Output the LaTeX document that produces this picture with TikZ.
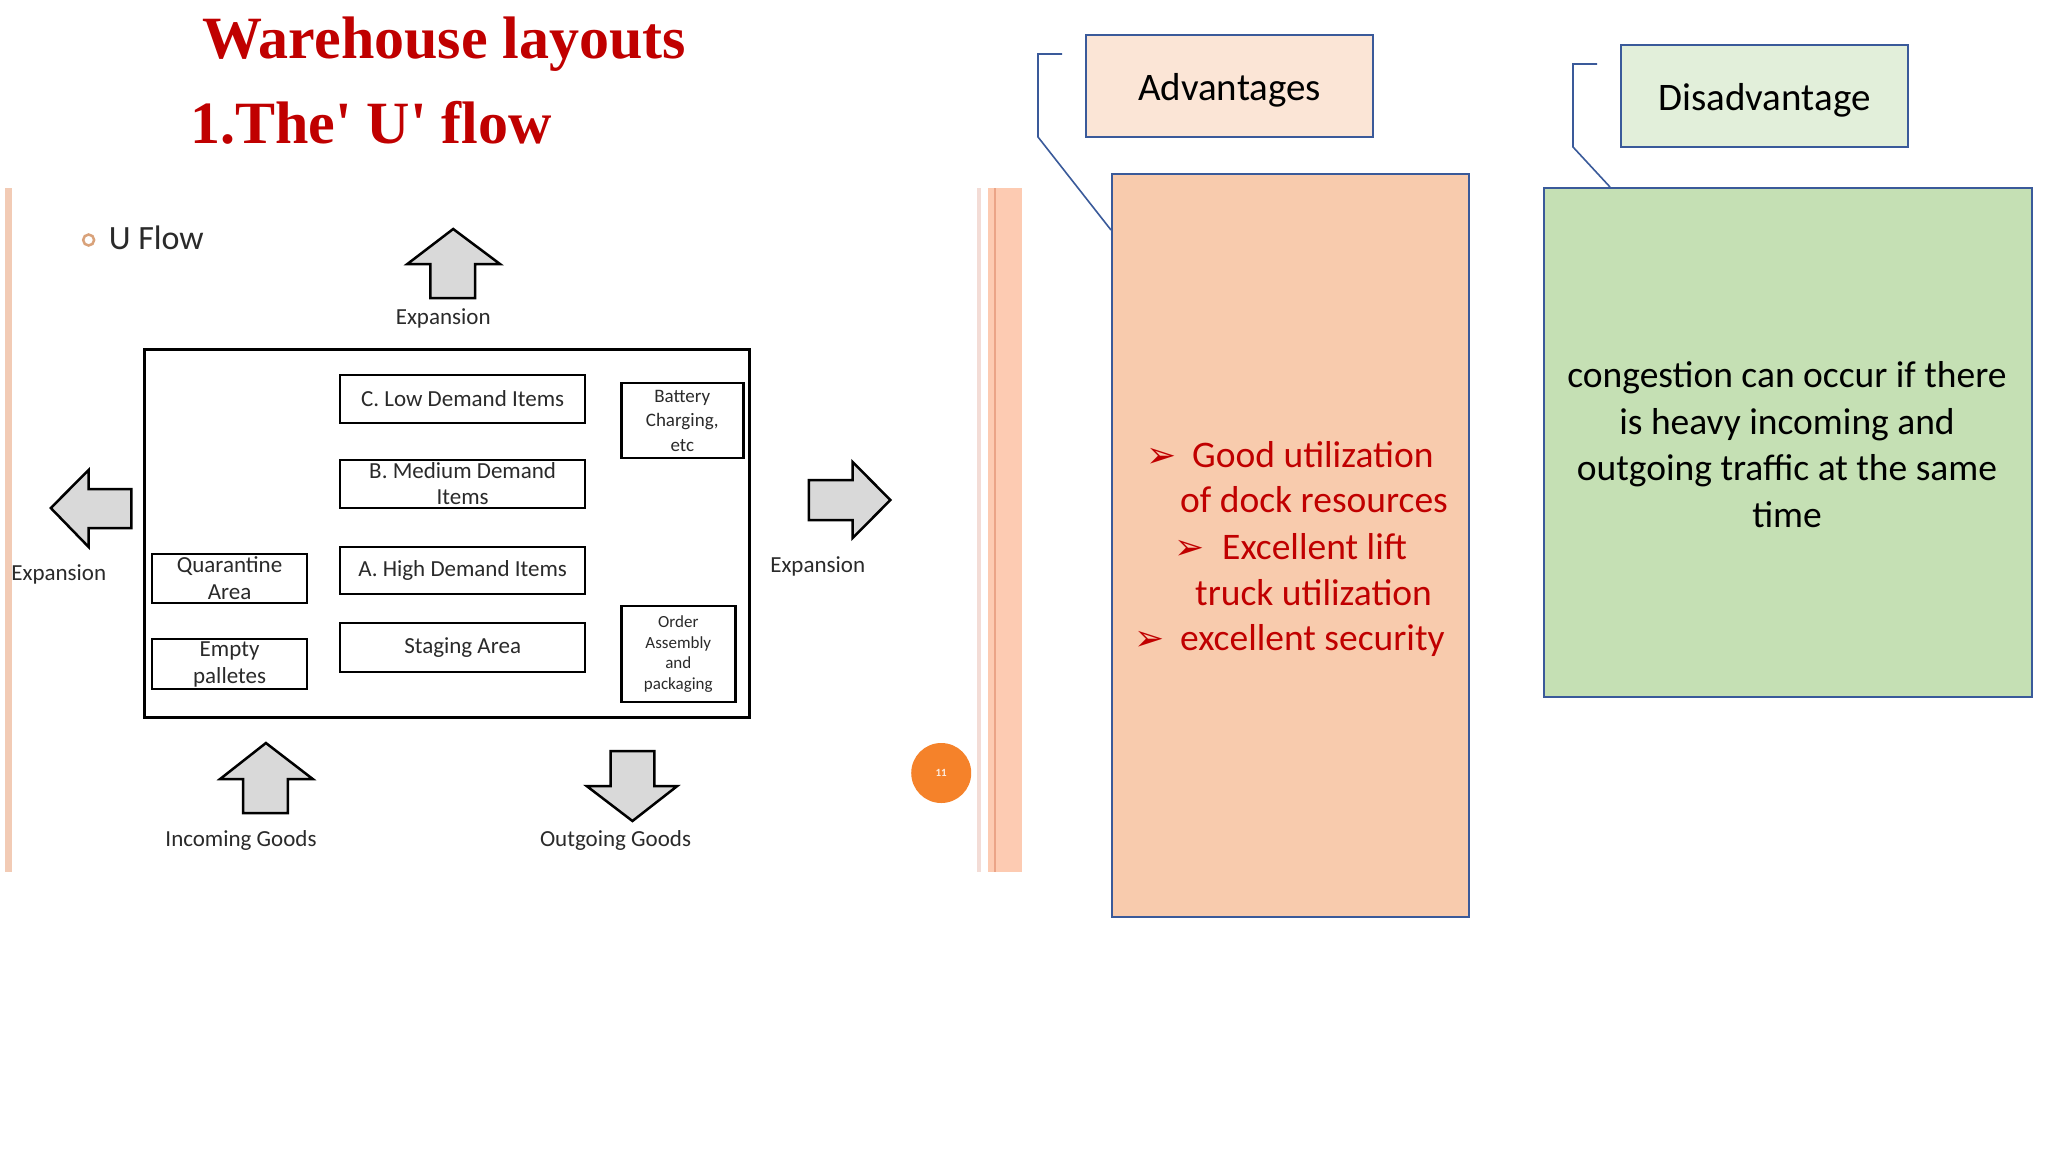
\documentclass[tikz,border=0pt]{standalone}
\usepackage{fontspec}
\setmainfont{Carlito}
\newfontfamily\titlefont[Ligatures=TeXOff]{Liberation Serif}
\newfontfamily\symfont{DejaVu Sans}
\definecolor{titlered}{HTML}{C00000}
\definecolor{advfill}{HTML}{FBE5D6}
\definecolor{advbigfill}{HTML}{F8CBAD}
\definecolor{disfill}{HTML}{E2EFDA}
\definecolor{disbigfill}{HTML}{C5E0B4}
\definecolor{bordblue}{HTML}{3A5A9A}
\definecolor{arrgray}{HTML}{D9D9D9}
\definecolor{slideorange}{HTML}{F5822A}
\definecolor{sidepink}{HTML}{F2CBB5}
\definecolor{bandpink}{HTML}{FDCBB2}
\definecolor{bandline}{HTML}{EBA487}
\definecolor{lightline}{HTML}{F3DCD6}
\definecolor{diagtext}{HTML}{2A2A2A}
\definecolor{bulletc}{HTML}{D9A27A}
\begin{document}
\begin{tikzpicture}[x=1pt,y=-1pt,
  ibox/.style={draw=black,line width=2.5pt,inner sep=0pt,align=center,text=diagtext,
    font=\fontsize{23}{27}\selectfont},
  bigarrow/.style={draw=black,fill=arrgray,line width=2.5pt,line join=miter},
  lbl/.style={text=diagtext,inner sep=0pt,font=\fontsize{23}{27}\selectfont},
  hdrbox/.style={draw=bordblue,line width=2pt,inner sep=0pt,text height=28pt,text depth=0pt,
    font=\fontsize{39}{46}\selectfont},
  bigbox/.style={draw=bordblue,line width=2pt,inner sep=0pt},
  bracket/.style={draw=bordblue,line width=1.6pt},
  redline/.style={anchor=base west,inner sep=0pt,text=titlered,font=\fontsize{37.5}{45}\selectfont},
  blkline/.style={anchor=base,inner sep=0pt,text=black,font=\fontsize{37.5}{45}\selectfont},
  titletext/.style={anchor=base west,inner sep=0pt,text=titlered,font=\titlefont\bfseries\fontsize{60}{72}\selectfont}]
\useasboundingbox[fill=white] (0,0) rectangle (2048,1152);

% titles
\node[titletext] (t1) at (202,58) {Warehouse layouts};
\node[titletext] (t2) at (190,143) {1.The' U' flow};

% slide side bars
\fill[sidepink] (5,188) rectangle (12,872);
\fill[lightline] (977,188) rectangle (981,872);
\fill[bandpink] (988,188) rectangle (1022,872);
\draw[bandline,line width=2pt] (995,188) -- (995,872);

\begin{scope}[xscale=0.996]
% U flow heading
\draw[bulletc,line width=2.5pt] (89,240) circle (5.5);
\node[anchor=base west,inner sep=0pt,text=diagtext,font=\fontsize{34}{40}\selectfont] (uflow) at (109,249) {U Flow};

% main rectangle
\draw[black,line width=3pt] (145,349) rectangle (752,717);

% inner boxes
\node[ibox,minimum width=245pt,minimum height=48pt] (cbox) at (464.5,399) {C. Low Demand Items};
\node[ibox,minimum width=245pt,minimum height=48pt,font=\fontsize{23}{26}\selectfont] (bbox) at (464.5,484) {B. Medium Demand\\Items};
\node[ibox,minimum width=245pt,minimum height=47pt] (abox) at (464.5,570.5) {A. High Demand Items};
\node[ibox,minimum width=245pt,minimum height=49pt] (sbox) at (464.5,647.5) {Staging Area};
\node[ibox,minimum width=122pt,minimum height=75pt,font=\fontsize{19}{24.5}\selectfont] (batt) at (685,420.5) {Battery\\Charging,\\etc};
\node[ibox,minimum width=114pt,minimum height=96pt,font=\fontsize{17}{20.5}\selectfont] (order) at (681,654) {Order\\Assembly\\and\\packaging};
\node[ibox,minimum width=155pt,minimum height=49pt] (quar) at (230.5,578.5) {Quarantine\\Area};
\node[ibox,minimum width=155pt,minimum height=50pt] (empty) at (230.5,664) {Empty\\palletes};

% block arrows
\draw[bigarrow] (455,229) -- (502,264) -- (477,264) -- (477,298) -- (432,298) -- (432,264) -- (409,264) -- cycle;
\draw[bigarrow] (51,508) -- (89,470) -- (89,489) -- (132,489) -- (132,528) -- (89,528) -- (89,547) -- cycle;
\draw[bigarrow] (894,500) -- (856,462) -- (856,480) -- (812,480) -- (812,520) -- (856,520) -- (856,538) -- cycle;
\draw[bigarrow] (267,743) -- (314,779) -- (289,779) -- (289,813) -- (244,813) -- (244,779) -- (221,779) -- cycle;
\draw[bigarrow] (635,821) -- (680,786) -- (657,786) -- (657,751) -- (613,751) -- (613,786) -- (589,786) -- cycle;

% labels
\node[lbl] (exptop) at (445,318) {Expansion};
\node[lbl] (expleft) at (59,574) {Expansion};
\node[lbl] (expright) at (821,566) {Expansion};
\node[lbl] (incoming) at (242,840) {Incoming Goods};
\node[lbl] (outgoing) at (618,840) {Outgoing Goods};

% slide number circle
\node[circle,fill=slideorange,minimum size=60pt,inner sep=0pt,text=white!85!slideorange,font=\bfseries\fontsize{11}{12}\selectfont] (num) at (945,773) {11};
\end{scope}

% advantages
\node[hdrbox,fill=advfill,minimum width=287pt,minimum height=102pt] (adv) at (1229.5,86) {Advantages};
\node[bigbox,fill=advbigfill,minimum width=357pt,minimum height=743pt] (advbig) at (1290.5,545.5) {};
\coordinate (advb) at (1062,54);
\draw[bracket] (advb) -- (1038,54) -- (1038,137) -- ([yshift=-57pt]advbig.north west);

\node[redline] (a1) at (1146,467) {\makebox[46pt][l]{\symfont\fontsize{36}{36}\selectfont ➢}Good utilization};
\node[redline] (a2) at (1180,512) {of dock resources};
\node[redline] (a3) at (1174,559) {\makebox[48pt][l]{\symfont\fontsize{36}{36}\selectfont ➢}Excellent lift};
\node[redline] (a4) at (1195,605) {truck utilization};
\node[redline] (a5) at (1134,650) {\makebox[46pt][l]{\symfont\fontsize{36}{36}\selectfont ➢}excellent security};

% disadvantage
\node[hdrbox,fill=disfill,minimum width=287pt,minimum height=102pt] (dis) at (1764.5,96) {Disadvantage};
\node[bigbox,fill=disbigfill,minimum width=488pt,minimum height=509pt] (disbig) at (1788,442.5) {};
\coordinate (disb) at (1597,64);
\draw[bracket] (disb) -- (1573,64) -- (1573,147) -- ([xshift=67pt]disbig.north west);

\node[blkline] (d1) at (1787,387) {congestion can occur if there};
\node[blkline] (d2) at (1787,434) {is heavy incoming and};
\node[blkline] (d3) at (1787,480) {outgoing traffic at the same};
\node[blkline] (d4) at (1787,527) {time};
\end{tikzpicture}
\end{document}
